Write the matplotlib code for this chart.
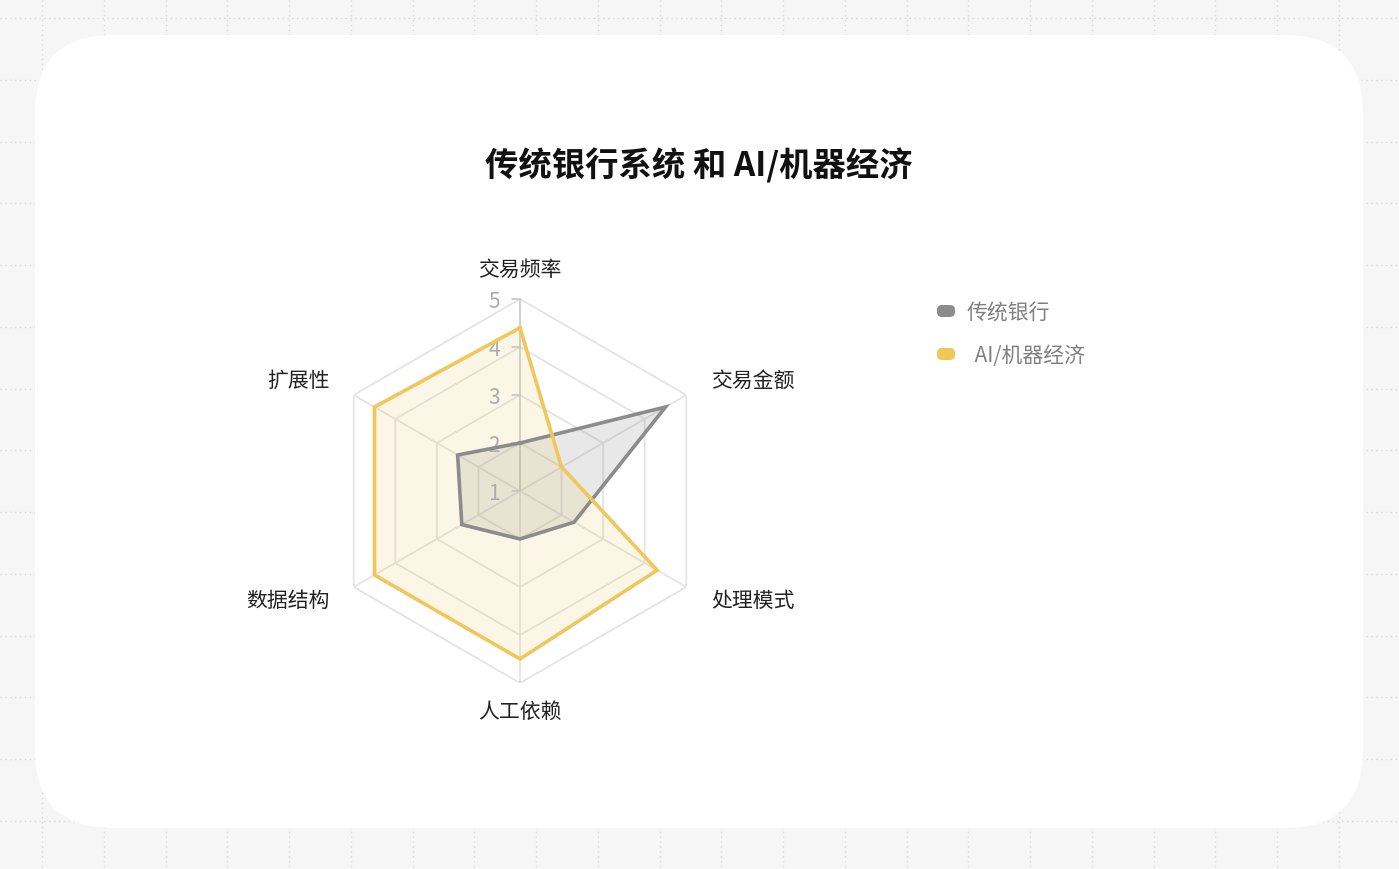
import numpy as np
import matplotlib
matplotlib.use('Agg')
import matplotlib.pyplot as plt
from matplotlib.patches import FancyBboxPatch

plt.rcParams['font.family'] = ['Noto Sans CJK SC', 'DejaVu Sans']

# ---------------- data ----------------
title = '传统银行系统 和 AI/机器经济'
indicators = ['交易频率', '交易金额', '处理模式', '人工依赖', '数据结构', '扩展性']
series_names = ['传统银行', ' AI/机器经济']
traditional = [2.0, 4.5, 2.3, 2.0, 2.4, 2.5]
ai_economy = [4.4, 2.0, 4.3, 4.5, 4.5, 4.5]
r_ticks = [1, 2, 3, 4, 5]
r_min, r_max = 1, 5

colors = ['#8c8c8c', '#f0c75a']
fill_alpha = [0.2, 0.15]

# ---------------- figure / background ----------------
W, H = 1399, 869
fig = plt.figure(figsize=(W / 100, H / 100), dpi=100)
fig.patch.set_facecolor('#f6f6f6')
bg = fig.add_axes([0, 0, 1, 1])
bg.set_xlim(0, W)
bg.set_ylim(H, 0)
bg.axis('off')
bg.patch.set_alpha(0)

for x in np.arange(42, W, 61.75):
    bg.plot([x, x], [0, H], color='#dadada', lw=1, ls=(0, (1, 2.5)), zorder=0)
for y in np.arange(18, H, 61.75):
    bg.plot([0, W], [y, y], color='#dadada', lw=1, ls=(0, (1, 2.5)), zorder=0)

card = FancyBboxPatch((35, 35), 1328, 793, boxstyle='round,pad=0,rounding_size=78',
                      facecolor='white', edgecolor='none', zorder=1)
bg.add_patch(card)

bg.text(699, 166, title, ha='center', va='center', fontsize=24, fontweight='semibold',
        color='#111111', zorder=3)

# legend
leg_y = [311, 354]
for name, col, ly in zip(series_names, colors, leg_y):
    bg.add_patch(FancyBboxPatch((937, ly - 6), 18, 12, boxstyle='round,pad=0,rounding_size=5',
                                facecolor=col, edgecolor='none', zorder=3))
    bg.text(967 + (3 if name.startswith(' ') else 0), ly + 2.5, name, ha='left', va='center',
            fontsize=15, color='#808080', zorder=3)

# ---------------- radar ----------------
cx, cy, R = 520, 491, 192
ax = fig.add_axes([(cx - R) / W, (H - cy - R) / H, 2 * R / W, 2 * R / H], projection='polar')
ax.set_theta_zero_location('N')
ax.set_theta_direction(-1)
ax.set_ylim(r_min, r_max)
ax.grid(False)
ax.spines['polar'].set_visible(False)
ax.set_xticks([])
ax.set_yticks([])
ax.patch.set_alpha(0)

n = len(indicators)
angles = np.linspace(0, 2 * np.pi, n, endpoint=False)
closed = np.concatenate([angles, angles[:1]])

for t in r_ticks[1:]:
    ax.plot(closed, [t] * (n + 1), color='#e4e4e4', lw=1.3, zorder=1)
for a in angles[1:]:
    ax.plot([a, a], [r_min, r_max], color='#e4e4e4', lw=1.3, zorder=1)
ax.plot([angles[0], angles[0]], [r_min, r_max], color='#cdcdcd', lw=1.3, zorder=1)

for t in r_ticks:
    ax.annotate('', xy=(0, t), xytext=(-8, 0), textcoords='offset pixels',
                arrowprops=dict(arrowstyle='-', color='#c4c4c4', lw=1.2, shrinkA=0, shrinkB=0))
    ax.annotate(str(t), xy=(0, t), xytext=(-26, -3), textcoords='offset pixels',
                ha='center', va='center', fontsize=15, color='#ababab')

for vals, col, fa in zip([traditional, ai_economy], colors, fill_alpha):
    v = list(vals) + [vals[0]]
    ax.fill(closed, v, color=col, alpha=fa, lw=0, zorder=2)
    ax.plot(closed, v, color=col, lw=2.6, zorder=3, solid_joinstyle='miter')

label_offsets = [(0, 29, 'center'), (25, 14, 'left'), (25, -14, 'left'),
                 (0, -29, 'center'), (-24, -14, 'right'), (-24, 14, 'right')]
for lab, a, (dx, dy, ha) in zip(indicators, angles, label_offsets):
    ax.annotate(lab, xy=(a, r_max), xytext=(dx, dy), textcoords='offset pixels',
                ha=ha, va='center', fontsize=15, color='#222222', annotation_clip=False)

fig.savefig('out.png', dpi=100, facecolor=fig.get_facecolor())
